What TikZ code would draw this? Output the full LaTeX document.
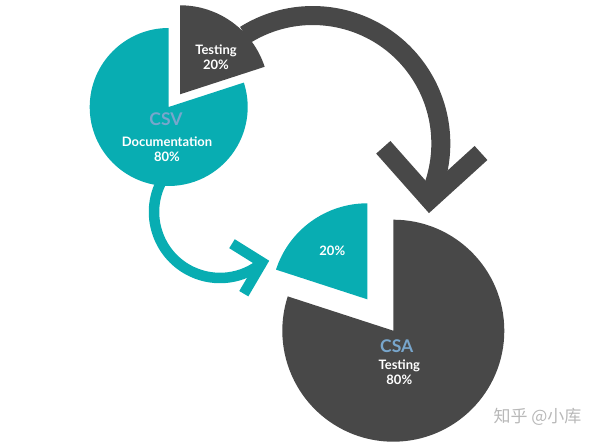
\documentclass[tikz,border=0pt]{standalone}
\usepackage{fontspec}
\setmainfont{Lato}
\newfontfamily\cjkfont{Noto Sans CJK SC}
\definecolor{tealpie}{HTML}{08ADB2}
\definecolor{darkpie}{HTML}{484848}
\definecolor{bluetitle}{HTML}{78A6CC}
\begin{document}
\begin{tikzpicture}[x=1pt, y=1pt,
        label/.style = {text=white, align=center, font=\fontsize{13}{15}\selectfont\bfseries},
        title/.style = {text=bluetitle, font=\fontsize{17.5}{17.5}\selectfont\bfseries},
        bigarrow/.style = {draw=darkpie, line width=19pt},
        smallarrow/.style = {draw=tealpie, line width=10.5pt}]
        \useasboundingbox (0,0) rectangle (600,442);
        \coordinate (csv) at (168.7,335);
        \coordinate (test) at (180,347.7);
        \coordinate (csa) at (393.3,111.3);
        \coordinate (doc) at (367.3,142.7);
        \coordinate (bigstart) at (245,407);
        \coordinate (bigtip) at (429.7,242.4);
        \coordinate (bigleft) at (383.3,294.7);
        \coordinate (bigright) at (481,289);
        \coordinate (smallstart) at (160.2,257.9);
        \coordinate (smalltip) at (262.1,179.5);
        \coordinate (smallleft) at (232,198.3);
        \coordinate (smallright) at (243.8,148.3);
        \draw[bigarrow] (bigstart) arc[start angle=122, end angle=-26, radius=128];
        \draw[bigarrow, miter limit=4] (bigleft) -- (bigtip) -- (bigright);
        \draw[smallarrow] (smallstart) arc[start angle=155, end angle=310, radius=66];
        \draw[smallarrow, miter limit=4] (smallleft) -- (smalltip) -- (smallright);
        \fill[tealpie] (csv) -- ++(90:79) arc[start angle=90, end angle=378, radius=79] -- cycle;
        \fill[darkpie] (test) -- ++(18:89) arc[start angle=18, end angle=90, radius=89] -- cycle;
        \fill[darkpie] (csa) -- ++(90:111) arc[start angle=90, end angle=-198, radius=111] -- cycle;
        \fill[tealpie] (doc) -- ++(90:96) arc[start angle=90, end angle=162, radius=96] -- cycle;
        \node[title] (csvname) at (166,323) {CSV};
        \node[label] (csvtext) at (167,293) {Documentation\\80\%};
        \node[label] (testtext) at (216,384.5) {Testing\\20\%};
        \node[title] (csaname) at (396.7,96) {CSA};
        \node[label] (csatext) at (399.3,69.5) {Testing\\80\%};
        \node[label] (doctext) at (332.3,191) {20\%};
        \node[text=black!28, font=\fontsize{17}{17}\selectfont\cjkfont] (mark) at (537.5,25.5) {知乎 @小库};
\end{tikzpicture}
\end{document}
